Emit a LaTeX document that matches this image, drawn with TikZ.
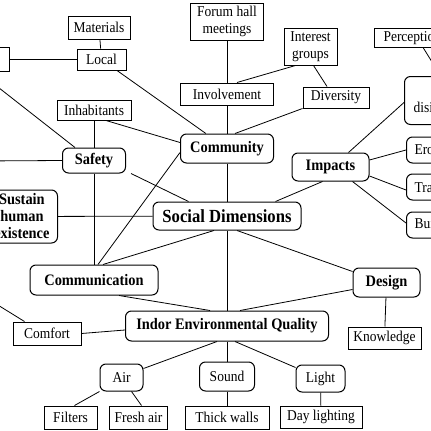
\documentclass[tikz,border=0pt]{standalone}
\usepackage{fontspec}
\setmainfont{Liberation Serif}[FakeStretch=0.9]
\begin{document}
\begin{tikzpicture}[x=1pt, y=-1pt,
  lbl/.style={draw, line width=1pt, font=\fontsize{15}{17}\selectfont, inner xsep=5pt, inner ysep=0pt, minimum height=22pt, align=center},
  key/.style={lbl, rounded corners=6pt, font=\bfseries\fontsize{16}{17}\selectfont, minimum height=28pt},
  soft/.style={lbl, rounded corners=6pt, minimum height=27pt},
  link/.style={line width=0.8pt}]
\useasboundingbox (0,0) rectangle (431,431);
\clip (0,0) rectangle (431,431);
% top row
\node[lbl, minimum width=62pt, minimum height=23pt] (mat) at (99,27.5) {Materials};
\node[lbl, minimum width=49pt, minimum height=21pt] (loc) at (101.5,59.5) {Local};
\node[lbl, minimum height=24pt, inner xsep=13pt, anchor=east] (cul) at (10,59.5) {Culture};
\node[lbl, minimum width=73pt, minimum height=37pt] (for) at (227,21.5) {Forum hall\\meetings};
\node[lbl, minimum width=53pt, minimum height=37pt] (int) at (310.5,46.5) {Interest\\groups};
\node[lbl, minimum height=19pt, inner xsep=9pt, anchor=west] (per) at (374,38) {Perception};
\node[lbl, minimum width=93pt] (inv) at (227,94) {Involvement};
\node[lbl, minimum width=66pt, minimum height=21pt] (div) at (336,97.5) {Diversity};
\node[lbl, minimum width=74pt, minimum height=20pt] (inh) at (94,110) {Inhabitants};
% middle
\node[key, minimum width=93pt, minimum height=29pt] (com) at (227,148.5) {Community};
\node[key, minimum width=63pt, minimum height=25pt] (saf) at (94,160.5) {Safety};
\node[key, minimum width=77pt] (imp) at (330.5,167) {Impacts};
\node[soft, minimum height=48pt, inner xsep=9pt, anchor=west] (dis) at (404,100.5) {Social\\disintegration};
\node[soft, minimum height=26pt, inner xsep=8pt, anchor=west] (ero) at (406,150) {Erosion};
\node[soft, minimum height=26pt, inner xsep=8pt, anchor=west] (tra) at (406,187) {Traffic};
\node[soft, minimum height=26pt, inner xsep=8pt, anchor=west] (bui) at (406,225) {Buildings};
\node[key, minimum height=53pt, inner xsep=8pt, anchor=east] (sus) at (58,216.5) {Sustain\\human\\existence};
\node[key, minimum width=148pt, font=\bfseries\fontsize{18.5}{20}\selectfont] (soc) at (227,216) {Social Dimensions};
\node[key, minimum width=128pt, minimum height=30pt] (cmm) at (94,280) {Communication};
\node[key, minimum width=67pt, minimum height=29pt] (des) at (386.5,282.5) {Design};
% bottom
\node[lbl, minimum width=68pt, minimum height=23pt] (cft) at (47,333.5) {Comfort};
\node[key, minimum width=203pt, minimum height=30pt] (ieq) at (227,326) {Indor Environmental Quality};
\node[lbl, minimum width=73pt] (kno) at (384.5,338) {Knowledge};
\node[soft, minimum width=43pt] (air) at (121.5,377.5) {Air};
\node[soft, minimum width=55pt, minimum height=29pt] (snd) at (227,376.5) {Sound};
\node[soft, minimum width=49pt] (lig) at (320.5,378.5) {Light};
\node[lbl, minimum width=53pt, minimum height=23pt] (fil) at (70.5,417.5) {Filters};
\node[lbl, minimum width=57pt, minimum height=23pt] (fre) at (138.5,417.5) {Fresh air};
\node[lbl, minimum width=84pt, minimum height=23pt] (thk) at (227,417.5) {Thick walls};
\node[lbl, minimum width=82pt] (day) at (321,417) {Day lighting};
% free ends off the page
\coordinate (offa) at (-20,73);
\coordinate (offb) at (-20,161);
\coordinate (offc) at (-20,294);
\coordinate (offd) at (437,70);
% connectors
\draw[link] (mat) -- (loc);
\draw[link] (loc) -- (cul);
\draw[link] (loc) -- (com);
\draw[link] (for) -- (inv);
\draw[link] (inv) -- (com);
\draw[link] ([xshift=-15pt]int.south) -- ([xshift=10pt]inv.north);
\draw[link] ([xshift=3pt]int.south) -- ([xshift=-9pt]div.north);
\draw[link] (div.south west) -- ([xshift=8pt]com.north);
\draw[link] ([xshift=11pt]per.south) -- (offd);
\draw[link] ([xshift=12pt]inh.south) -- ([yshift=6pt]com.west);
\draw[link] (inh) -- (saf);
\draw[link] (saf) -- (cmm);
\draw[link] (offa) -- ([xshift=13pt]saf.north west);
\draw[link] (offb) -- (saf.west);
\draw[link] ([xshift=5pt]saf.south east) -- ([xshift=36pt]soc.north west);
\draw[link] (sus) -- (soc);
\draw[link] ([xshift=4pt]cmm.north) -- ([yshift=-4pt]com.west);
\draw[link] ([xshift=9pt]cmm.north) -- ([xshift=-13pt]soc.south);
\draw[link] (com) -- (soc);
\draw[link] ([xshift=-26pt]soc.north east) -- ([xshift=-8pt]imp.south);
\draw[link] ([xshift=18pt]imp.north) -- ([yshift=-2pt]dis.west);
\draw[link] ([yshift=7pt]imp.east) -- (ero.west);
\draw[link] ([yshift=-9pt]imp.east) -- ([yshift=-3pt]tra.west);
\draw[link] ([xshift=22pt]imp.south) -- ([yshift=2pt]bui.west);
\draw[link] (soc) -- (ieq);
\draw[link] ([xshift=10pt]soc.south) -- ([yshift=-4pt]des.north west);
\draw[link] ([xshift=25pt]cmm.south) -- ([xshift=-17pt]ieq.north);
\draw[link] ([yshift=-7pt]des.west) -- ([xshift=13pt]ieq.north);
\draw[link] (des) -- (kno);
\draw[link] (cft.east) -- ([yshift=-4pt]ieq.west);
\draw[link] (offc) -- ([xshift=12pt]cft.north west);
\draw[link] ([yshift=-5pt]air.north east) -- ([xshift=-10pt]ieq.south);
\draw[link] (ieq) -- (snd);
\draw[link] ([xshift=8pt]ieq.south) -- ([yshift=-3pt]lig.north west);
\draw[link] (air.south west) -- ([xshift=4pt]fil.north);
\draw[link] ([xshift=10pt]air.south) -- ([xshift=3pt]fre.north);
\draw[link] (snd) -- (thk);
\draw[link] (lig) -- (day);
\end{tikzpicture}
\end{document}
